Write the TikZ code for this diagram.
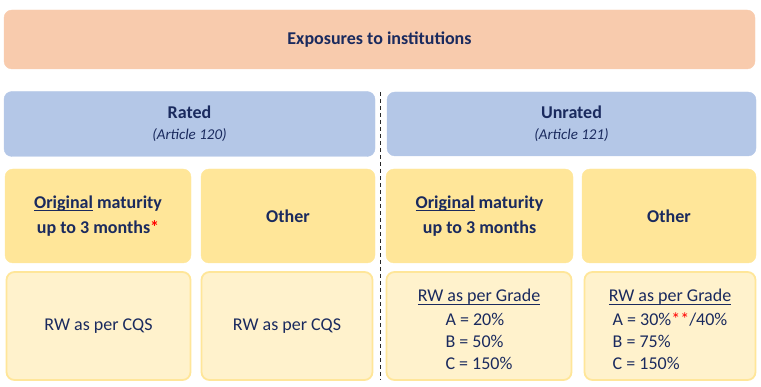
\documentclass[tikz,border=0pt]{standalone}
\usepackage{fontspec}
\setmainfont{Carlito}
\usepackage{tikz}
\usetikzlibrary{calc}

\definecolor{navy}{HTML}{1A2A5E}
\definecolor{peach}{HTML}{F8CBAD}
\definecolor{paleblue}{HTML}{B4C7E7}
\definecolor{gold}{HTML}{FFE699}
\definecolor{cream}{HTML}{FFF2CC}

\newcommand{\undl}[2][-2.6pt]{\leavevmode\setbox0\hbox{#2}\rlap{\rule[#1]{\wd0}{1.1pt}}\box0\relax}

\begin{document}
\begin{tikzpicture}[x=1pt,y=-1pt,
    box/.style={rectangle, rounded corners=8pt, align=center, inner sep=0pt,
      text=navy, font=\fontsize{18}{24}\selectfont},
    titlebox/.style={box, fill=peach, draw=peach},
    ratebox/.style={box, fill=paleblue, draw=paleblue},
    casebox/.style={box, fill=gold, draw=gold, font=\fontsize{18}{25}\selectfont\bfseries},
    rwbox/.style={box, fill=cream, draw=gold, line width=1.8pt}]
  \useasboundingbox (0,0) rectangle (761,387);

  %% Title and the two branches
  \node[titlebox, minimum width=751, minimum height=59] (TITLE) at (379.5,39.5)
  {\bfseries Exposures to institutions};
  \node[ratebox, minimum width=371, minimum height=65] (RATED) at (189.5,124)
  {\bfseries Rated\\[-3pt] {\fontsize{15}{18}\selectfont\itshape (Article 120)}};
  \node[ratebox, minimum width=369, minimum height=64] (UNRATED) at (571.5,124)
  {\bfseries Unrated\\[-3pt] {\fontsize{15}{18}\selectfont\itshape (Article 121)}};

  %% Maturity boxes
  \foreach \n/\cx/\w/\txt in {
    1/98/186/{\undl{Original} maturity\\up to 3 months{\color{red}*}},
    2/288/174/{Other},
    3/479.5/187/{\undl{Original} maturity\\up to 3 months},
    4/669/174/{Other}}
  {
    \node[casebox, minimum width=\w, minimum height=94] (CASE\n) at (\cx,216) {\txt};
  }

  %% Risk weight boxes
  \foreach \n/\cx/\w in {1/98.5/184, 2/287/171, 3/479/185, 4/670/171}
  {
    \node[rwbox, minimum width=\w, minimum height=108] (RW\n) at (\cx,326) {};
  }
  \node[box] (CQS1) at (RW1) {RW as per CQS};
  \node[box] (CQS2) at (RW2) {RW as per CQS};
  \node[box, font=\fontsize{18}{22}\selectfont] (GRADE3) at ($(RW3)+(0,6.5)$)
  {\undl[-3pt]{RW as per Grade}\\[4pt]
    \begin{tabular}{@{}l@{}}A = 20\%\\B = 50\%\\C = 150\%\end{tabular}};
  \node[box, font=\fontsize{18}{22}\selectfont] (GRADE4) at ($(RW4)+(0,6.5)$)
  {\undl[-3pt]{RW as per Grade}\\[4pt]
    \begin{tabular}{@{}l@{}}A = 30\%{\color{red}**}/40\%\\B = 75\%\\C = 150\%\end{tabular}};

  %% Dividing line
  \coordinate (DTOP) at (380,92);
  \coordinate (DBOT) at (380,380);
  \draw[black!85, line width=0.7pt, dash pattern=on 4pt off 3pt] (DTOP) -- (DBOT);
\end{tikzpicture}
\end{document}
